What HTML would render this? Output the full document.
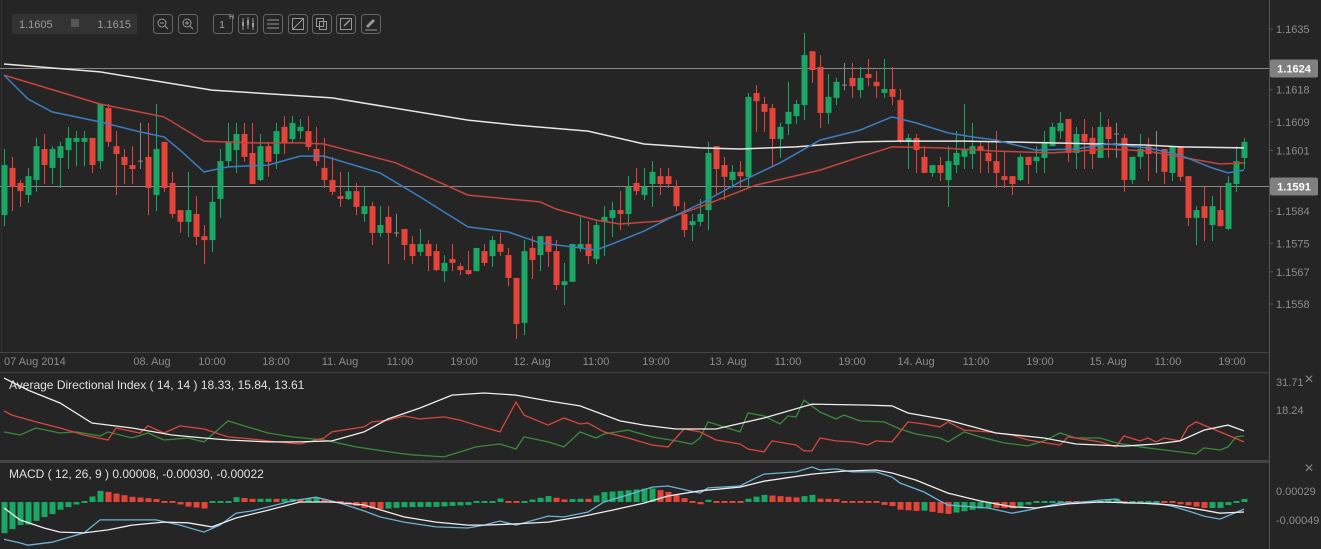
<!DOCTYPE html>
<html><head><meta charset="utf-8"><style>
html,body{margin:0;padding:0;background:#252525;width:1321px;height:549px;overflow:hidden}
svg{display:block;font-family:"Liberation Sans",sans-serif}
</style></head><body>
<svg id="chart" width="1321" height="549" viewBox="0 0 1321 549" xmlns="http://www.w3.org/2000/svg">
<rect x="0" y="0" width="1321" height="549" fill="#252525"/>
<g id="grid">
<line x1="0" y1="352.5" x2="1269" y2="352.5" stroke="#444"/>
<line x1="0" y1="372.5" x2="1269" y2="372.5" stroke="#444"/>
<rect x="0" y="460" width="1269" height="3" fill="#444"/>
<line x1="1269.5" y1="0" x2="1269.5" y2="549" stroke="#555"/>
<line x1="1.5" y1="0" x2="1.5" y2="352" stroke="#333"/>
</g>
<g id="toolbar">
<g>
<rect x="12" y="14" width="125" height="20" rx="2" fill="#333"/>
<text x="19" y="28" font-size="11" fill="#9a9a9a">1.1605</text>
<rect x="71" y="19" width="8" height="8" fill="#555"/>
<text x="131" y="28" font-size="11" fill="#9a9a9a" text-anchor="end">1.1615</text>
</g>
<g><rect x="153.5" y="14.5" width="19" height="19" rx="3" fill="none" stroke="#666"/><circle cx="162" cy="23" r="4" fill="none" stroke="#999"/><line x1="160" y1="23" x2="164" y2="23" stroke="#999"/><line x1="165" y1="26" x2="168" y2="29" stroke="#999"/></g>
<g><rect x="178.5" y="14.5" width="19" height="19" rx="3" fill="none" stroke="#666"/><circle cx="187" cy="23" r="4" fill="none" stroke="#999"/><line x1="185" y1="23" x2="189" y2="23" stroke="#999"/><line x1="187" y1="21" x2="187" y2="25" stroke="#999"/><line x1="190" y1="26" x2="193" y2="29" stroke="#999"/></g>
<g><rect x="213.5" y="14.5" width="19" height="19" rx="3" fill="none" stroke="#666"/><text x="222" y="28" font-size="10" fill="#aaa" text-anchor="middle">1</text><text x="229" y="19" font-size="7" fill="#aaa">H</text></g>
<g><rect x="238.5" y="14.5" width="19" height="19" rx="3" fill="none" stroke="#666"/><path d="M243 18v12M248 17v12M253 18v12" stroke="#999"/><rect x="242" y="22" width="2" height="4" fill="#999"/><rect x="247" y="20" width="2" height="5" fill="#999"/><rect x="252" y="23" width="2" height="4" fill="#999"/></g>
<g><rect x="263.5" y="14.5" width="19" height="19" rx="3" fill="none" stroke="#666"/><path d="M267 20h12M267 24h12M267 28h12" stroke="#999"/></g>
<g><rect x="288.5" y="14.5" width="19" height="19" rx="3" fill="none" stroke="#666"/><rect x="292.5" y="18.5" width="11" height="11" fill="none" stroke="#999"/><path d="M293 29l10-10" stroke="#999"/></g>
<g><rect x="312.5" y="14.5" width="19" height="19" rx="3" fill="none" stroke="#666"/><rect x="316.5" y="18.5" width="7" height="8" fill="none" stroke="#999"/><rect x="319.5" y="21.5" width="7" height="8" fill="none" stroke="#999"/></g>
<g><rect x="336.5" y="14.5" width="19" height="19" rx="3" fill="none" stroke="#666"/><rect x="340.5" y="18.5" width="11" height="11" fill="none" stroke="#999"/><path d="M344 26l6-6" stroke="#999" stroke-width="1.5"/></g>
<g><rect x="361.5" y="14.5" width="19" height="19" rx="3" fill="none" stroke="#666"/><path d="M366 26l7-7 2 2-7 7z" fill="#999"/><line x1="365" y1="30" x2="377" y2="30" stroke="#999"/></g>
</g>
<g id="main"></g>
<g id="adx">
<text x="9" y="389" font-size="12" fill="#e0e0e0">Average Directional Index ( 14, 14 ) 18.33, 15.84, 13.61</text>
<text x="1309" y="384" font-size="16" fill="#888" text-anchor="middle">×</text>
</g>
<g id="macd">
<text x="9" y="478" font-size="12" fill="#e0e0e0">MACD ( 12, 26, 9 ) 0.00008, -0.00030, -0.00022</text>
<text x="1309" y="473" font-size="16" fill="#888" text-anchor="middle">×</text>
</g>
</svg>
<script>
const openP=[1.15829,1.15961,1.15919,1.15885,1.15927,1.16014,1.15961,1.15989,1.16011,1.16034,1.16034,1.16045,1.15980,1.16129,1.16022,1.15992,1.15969,1.15980,1.15992,1.15885,1.16034,1.15919,1.15843,1.15810,1.15832,1.15770,1.15759,1.15874,1.15980,1.16011,1.16056,1.16003,1.15927,1.16022,1.16000,1.16076,1.16042,1.16064,1.16064,1.16014,1.15961,1.15927,1.15882,1.15874,1.15896,1.15832,1.15854,1.15779,1.15824,1.15779,1.15790,1.15748,1.15726,1.15748,1.15728,1.15672,1.15706,1.15686,1.15675,1.15672,1.15728,1.15714,1.15748,1.15717,1.15653,1.15527,1.15737,1.15717,1.15770,1.15728,1.15633,1.15642,1.15737,1.15748,1.15706,1.15812,1.15821,1.15843,1.15832,1.15919,1.15885,1.15916,1.15938,1.15938,1.15908,1.15832,1.15801,1.15810,1.15843,1.16022,1.15969,1.15927,1.15950,1.15936,1.16171,1.16140,1.16129,1.16042,1.16084,1.16106,1.16137,1.16288,1.16244,1.16115,1.16157,1.16193,1.16213,1.16179,1.16224,1.16202,1.16171,1.16182,1.16151,1.16034,1.16045,1.15992,1.15947,1.15969,1.15927,1.15969,1.15992,1.16000,1.16022,1.16003,1.15980,1.15938,1.15938,1.15927,1.15992,1.15980,1.15989,1.16022,1.16064,1.16098,1.16003,1.16056,1.16045,1.15989,1.16076,1.16056,1.16045,1.15927,1.15992,1.16022,1.16003,1.16014,1.15947,1.16022,1.15938,1.15821,1.15854,1.15801,1.15843,1.15790,1.15916,1.15989];
const highP=[1.16014,1.15992,1.15927,1.15961,1.16045,1.16056,1.16022,1.16034,1.16076,1.16064,1.16064,1.16045,1.16140,1.16140,1.16064,1.16014,1.16022,1.16087,1.16087,1.16140,1.16034,1.15950,1.15843,1.15950,1.15882,1.15801,1.15908,1.16014,1.16087,1.16087,1.16087,1.16087,1.16056,1.16034,1.16087,1.16106,1.16106,1.16098,1.16106,1.16076,1.16045,1.15992,1.15950,1.15950,1.15919,1.15908,1.15866,1.15854,1.15854,1.15832,1.15790,1.15770,1.15790,1.15759,1.15748,1.15717,1.15748,1.15695,1.15728,1.15737,1.15748,1.15770,1.15779,1.15737,1.15653,1.15759,1.15770,1.15770,1.15770,1.15759,1.15695,1.15748,1.15824,1.15812,1.15812,1.15854,1.15866,1.15896,1.15938,1.15961,1.15961,1.15980,1.15961,1.15961,1.15927,1.15866,1.15832,1.15874,1.16034,1.16022,1.15992,1.15969,1.15980,1.16171,1.16193,1.16160,1.16140,1.16087,1.16202,1.16151,1.16339,1.16288,1.16277,1.16224,1.16213,1.16255,1.16255,1.16244,1.16266,1.16232,1.16266,1.16244,1.16182,1.16056,1.16056,1.16022,1.15969,1.15992,1.16022,1.16064,1.16140,1.16087,1.16034,1.16034,1.16064,1.16006,1.15938,1.16000,1.15992,1.16022,1.16064,1.16087,1.16118,1.16098,1.16076,1.16098,1.16076,1.16118,1.16098,1.16087,1.16056,1.15992,1.16056,1.16045,1.16064,1.16014,1.16022,1.16022,1.15938,1.15854,1.15908,1.15882,1.15908,1.15938,1.16022,1.16045];
const lowP=[1.15798,1.15840,1.15852,1.15863,1.15894,1.15916,1.15916,1.15905,1.15958,1.15966,1.15966,1.15947,1.15958,1.16020,1.15885,1.15916,1.15916,1.15958,1.15829,1.15840,1.15894,1.15821,1.15779,1.15768,1.15745,1.15692,1.15726,1.15821,1.15966,1.15947,1.15978,1.15916,1.15924,1.15936,1.15958,1.16000,1.16031,1.16042,1.16011,1.15966,1.15905,1.15885,1.15852,1.15871,1.15829,1.15810,1.15745,1.15768,1.15692,1.15768,1.15703,1.15692,1.15714,1.15672,1.15672,1.15642,1.15672,1.15661,1.15661,1.15672,1.15686,1.15684,1.15714,1.15630,1.15482,1.15493,1.15650,1.15672,1.15684,1.15619,1.15577,1.15642,1.15726,1.15692,1.15692,1.15714,1.15768,1.15787,1.15798,1.15885,1.15871,1.15852,1.15885,1.15905,1.15840,1.15768,1.15756,1.15798,1.15787,1.15885,1.15871,1.15905,1.15905,1.15905,1.16062,1.16062,1.15966,1.15989,1.16053,1.16084,1.16095,1.16199,1.16073,1.16084,1.16137,1.16179,1.16157,1.16157,1.16190,1.16157,1.16157,1.16137,1.16031,1.15958,1.15947,1.15947,1.15936,1.15924,1.15852,1.15947,1.15958,1.15958,1.15947,1.15947,1.15905,1.15905,1.15885,1.15924,1.15916,1.15947,1.15947,1.16022,1.16042,1.15978,1.15958,1.15958,1.15958,1.15989,1.15989,1.15989,1.15894,1.15916,1.15958,1.15924,1.15947,1.15916,1.15924,1.15924,1.15798,1.15745,1.15756,1.15756,1.15798,1.15787,1.15894,1.15958];
const closeP=[1.15969,1.15908,1.15896,1.15938,1.16022,1.15969,1.16014,1.16022,1.16045,1.16045,1.16045,1.15969,1.16140,1.16034,1.16000,1.15969,1.15958,1.15980,1.15905,1.16014,1.15905,1.15832,1.15810,1.15843,1.15768,1.15759,1.15866,1.15980,1.16034,1.16056,1.15992,1.15916,1.16022,1.15978,1.16064,1.16031,1.16087,1.16076,1.16020,1.15980,1.15927,1.15894,1.15874,1.15896,1.15852,1.15854,1.15779,1.15801,1.15779,1.15779,1.15745,1.15714,1.15748,1.15714,1.15675,1.15695,1.15695,1.15675,1.15664,1.15737,1.15695,1.15759,1.15726,1.15653,1.15524,1.15728,1.15703,1.15770,1.15726,1.15633,1.15644,1.15748,1.15748,1.15714,1.15801,1.15824,1.15843,1.15832,1.15908,1.15896,1.15908,1.15950,1.15916,1.15916,1.15854,1.15787,1.15812,1.15832,1.16003,1.15958,1.15936,1.15950,1.15938,1.16160,1.16148,1.16118,1.16042,1.16076,1.16118,1.16140,1.16277,1.16235,1.16115,1.16160,1.16202,1.16193,1.16190,1.16213,1.16213,1.16190,1.16182,1.16160,1.16034,1.16045,1.16011,1.15947,1.15969,1.15947,1.15980,1.16003,1.16011,1.16022,1.16011,1.15980,1.15947,1.15927,1.15916,1.15992,1.15969,1.15992,1.16034,1.16076,1.16087,1.16003,1.16056,1.16034,1.16000,1.16076,1.16042,1.16056,1.15927,1.15992,1.16014,1.16000,1.16003,1.15950,1.16022,1.15936,1.15821,1.15843,1.15821,1.15854,1.15798,1.15919,1.15980,1.16034];

const slowMaIdx=[0,12,26,41,58,64,73,80,87,92,99,107,112,120,131,143,147,155];
const slowMaVal=[1.16252,1.16230,1.16179,1.16157,1.16095,1.16081,1.16064,1.16028,1.16017,1.16014,1.16020,1.16034,1.16036,1.16036,1.16031,1.16025,1.16020,1.16017];
const midMaIdx=[0,12,20,25,31,37,40,49,58,67,69,74,77,82,87,94,102,107,111,117,124,131,138,143,147,152,155];
const midMaVal=[1.16221,1.16140,1.16104,1.16036,1.16031,1.16031,1.16028,1.15975,1.15885,1.15866,1.15846,1.15815,1.15804,1.15812,1.15852,1.15913,1.15955,1.15992,1.16020,1.16017,1.16008,1.16003,1.16014,1.16008,1.15992,1.15972,1.15975];
const fastMaIdx=[0,3,6,12,17,20,22,25,28,33,37,40,47,52,58,63,67,72,74,77,80,83,87,92,97,102,107,111,114,118,121,124,129,134,138,143,147,151,153,155];
const fastMaVal=[1.16221,1.16154,1.16118,1.16090,1.16062,1.16048,1.16011,1.15950,1.15964,1.15969,1.15994,1.15994,1.15947,1.15880,1.15796,1.15782,1.15751,1.15737,1.15731,1.15757,1.15784,1.15818,1.15860,1.15922,1.15975,1.16039,1.16067,1.16104,1.16087,1.16059,1.16048,1.16039,1.16011,1.16014,1.16028,1.16017,1.15997,1.15961,1.15947,1.15955];
const levelPrices=[1.1624,1.1591];
const priceTicks=[1.1635,1.1618,1.1609,1.1601,1.1584,1.1575,1.1567,1.1558];
const timeLabels=["07 Aug 2014","08. Aug","10:00","18:00","11. Aug","11:00","19:00","12. Aug","11:00","19:00","13. Aug","11:00","19:00","14. Aug","11:00","19:00","15. Aug","11:00","19:00"];
const timeLabelIdx=[4.5,18.5,26,34,42,49.5,57.5,66,74,81.5,90.5,98,106,114,121.5,129.5,138,145.5,153.5];

const adxLineIdx=[0,3,7,11,16,21,25,28,33,37,41,45,48,52,56,60,64,68,72,77,80,84,89,95,101,108,111,113,118,124,130,134,140,144,147,150,153,155];
const adxLineVal=[33.6,27.8,21.6,12.0,9.6,6.2,4.8,3.8,2.9,2.9,3.4,7.7,13.9,19.2,25.4,26.4,25.4,22.6,20.2,13.0,11.0,9.1,9.1,14.4,21.1,20.6,20.2,16.8,13.4,7.2,4.8,1.9,0.9,1.9,3.4,8.6,11.0,8.2];
const plusDiIdx=[0,1,4,7,10,13,14,17,18,20,22,25,28,31,34,37,40,41,45,46,48,50,52,55,57,59,62,64,65,68,70,72,73,75,78,81,83,85,87,89,92,93,95,96,99,100,101,102,104,106,108,109,111,113,115,117,118,120,123,126,128,132,133,137,139,140,142,143,144,145,147,148,149,155];
const plusDiVal=[17.8,15.8,12.5,9.6,6.2,3.8,9.6,7.2,10.6,7.2,10.6,9.1,5.3,4.3,2.9,1.9,4.8,7.7,10.1,12.5,13.4,15.4,13.9,14.9,13.4,11.0,7.7,22.1,15.8,11.0,14.4,11.5,12.0,7.7,4.8,1.4,0.5,9.1,7.7,3.8,1.9,-0.5,-1.9,3.4,1.4,-1.4,-1.4,4.8,3.4,2.9,1.4,3.4,2.9,12.5,11.5,10.1,12.5,8.6,7.7,6.2,3.8,1.4,5.3,2.9,0.5,5.8,3.4,4.8,2.9,4.8,3.4,10.1,12.5,2.9];
const minusDiIdx=[0,2,4,7,9,12,13,16,18,20,23,25,28,30,33,36,40,44,49,51,55,57,59,62,64,65,68,70,72,74,75,78,81,84,86,87,88,90,92,93,95,97,98,99,100,102,104,105,107,110,112,114,117,118,120,122,125,128,130,132,134,137,139,142,144,147,149,150,152,153,154,155];
const minusDiVal=[7.7,6.2,9.6,7.2,7.7,5.8,7.7,4.8,7.2,3.8,4.8,2.9,13.0,10.6,7.2,5.3,3.8,0.5,-2.4,-3.3,-4.3,-1.9,0.5,1.9,-0.5,5.3,2.9,0.5,7.7,4.8,6.7,8.6,5.3,3.4,1.9,4.8,12.5,10.1,7.7,16.8,15.4,11.5,15.4,14.9,23.0,17.3,13.9,15.8,13.0,12.5,9.1,6.7,4.8,2.9,7.7,5.3,2.4,1.0,3.4,7.2,4.8,4.8,2.4,0.5,-0.5,-1.9,-2.9,0,-1.0,0.5,5.3,5.8];
const adxTicks=[31.71,18.24];

// MACD values in units of 1e-5
const macdIdx=[0,2,3,6,10,12,19,22,25,27,29,31,34,36,39,42,45,47,50,54,58,60,62,64,68,70,73,75,78,81,83,87,88,92,94,95,99,101,102,104,106,109,111,112,115,117,118,121,123,126,128,132,135,137,139,140,144,146,148,150,152,155];
const macdValE5=[-100,-110,-116,-108,-83,-48,-48,-62,-81,-62,-30,-24,-8,3,13,-3,-24,-40,-54,-67,-70,-62,-51,-62,-38,-40,-27,0,19,40,43,24,38,43,65,75,81,94,86,89,81,81,67,51,27,3,-8,-13,-16,-30,-22,-3,0,5,8,-3,-3,-11,-24,-38,-46,-19];
const signalIdx=[0,2,5,7,10,13,16,20,23,26,29,33,37,41,45,50,54,58,60,64,68,72,76,80,83,87,92,95,101,105,109,111,114,118,122,126,129,133,137,142,146,150,152,155];
const signalValE5=[-16,-48,-70,-81,-83,-75,-62,-54,-56,-67,-43,-22,0,0,-8,-40,-54,-62,-62,-59,-54,-40,-22,-3,16,30,40,56,75,83,86,78,59,24,3,-13,-16,-5,0,-3,-8,-22,-30,-27];
const macdTicksE5=[29,-49];

const NS="http://www.w3.org/2000/svg";
const N=openP.length;
const xOf=i=>4+8*i;
const priceY=p=>29+(1.1635-p)*35714.3;
const adxY=v=>410-(v-18.24)*2.08;
const macdY=vE5=>502-vE5*0.372;
function mk(tag,attrs,parent){const e=document.createElementNS(NS,tag);for(const k in attrs)e.setAttribute(k,attrs[k]);parent.appendChild(e);return e;}
function interp(idx,val,i){if(i<=idx[0])return val[0];for(let k=1;k<idx.length;k++){if(i<=idx[k]){const t=(i-idx[k-1])/(idx[k]-idx[k-1]);return val[k-1]+t*(val[k]-val[k-1]);}}return val[val.length-1];}
function pathOf(idx,val,fy){return idx.map((ix,k)=>(k?'L':'M')+xOf(ix).toFixed(1)+' '+fy(val[k]).toFixed(1)).join(' ');}

const main=document.getElementById('main');
// price ticks
priceTicks.forEach(p=>{
  const t=mk('text',{x:1276,y:(priceY(p)+4).toFixed(1),'font-size':11,fill:'#8c8c8c'},main);
  t.textContent=p.toFixed(4);
  
  
  mk('line',{x1:1269,x2:1273,y1:priceY(p),y2:priceY(p),stroke:'#555'},main);
});
// time labels
timeLabels.forEach((s,k)=>{
  const x=xOf(timeLabelIdx[k]);
  const t=mk('text',{x:k===0?4:x,y:365,'font-size':11,fill:'#8c8c8c','text-anchor':k===0?'start':'middle'},main);
  t.textContent=s;
  
  
});
// level lines
levelPrices.forEach(p=>{
  const y=Math.round(priceY(p))+0.5;
  const l=mk('line',{x1:0,x2:1269,y1:y,y2:y,stroke:'#8a8a8a','stroke-width':1},main);
  
  
  const r=mk('rect',{x:1270,y:y-9,width:48,height:18,rx:2,fill:'#808080'},main);
  
  
  const t=mk('text',{x:1294,y:y+4,'font-size':11,'font-weight':'bold',fill:'#fff','text-anchor':'middle'},main);
  t.textContent=p.toFixed(4);
  
  
});
// candles
for(let i=0;i<N;i++){
  const o=openP[i],c=closeP[i],h=highP[i],l=lowP[i];
  const col=c>o?'#1aa765':(c<o?'#e5443a':'#8a8a8a');
  const x=xOf(i);
  const g=mk('g',{},main);
  
  
  mk('line',{x1:x+0.5,x2:x+0.5,y1:priceY(h),y2:priceY(l),stroke:col,'stroke-width':1},g);
  const top=priceY(Math.max(o,c)),bot=priceY(Math.min(o,c));
  if(c===o){mk('line',{x1:x-2,x2:x+3,y1:top,y2:top,stroke:col},g);}
  else mk('rect',{x:x-2.5,y:top,width:6,height:Math.max(1,bot-top),fill:col},g);
}
// moving averages
[[slowMaIdx,slowMaVal,'#e6e6e6','slow-moving-average'],[midMaIdx,midMaVal,'#c8443c','medium-moving-average'],[fastMaIdx,fastMaVal,'#3b7fc2','fast-moving-average']].forEach(s=>{
  const p=mk('path',{d:pathOf(s[0],s[1],priceY),fill:'none',stroke:s[2],'stroke-width':1.5},main);
  
  
});

// ADX
const adx=document.getElementById('adx');
adxTicks.forEach(v=>{
  const t=mk('text',{x:1276,y:(adxY(v)+4).toFixed(1),'font-size':11,fill:'#8c8c8c'},adx);
  t.textContent=v.toFixed(2);
  
  
});
[[minusDiIdx,minusDiVal,'#3a8a3e','minus-di-line'],[plusDiIdx,plusDiVal,'#d9463c','plus-di-line'],[adxLineIdx,adxLineVal,'#eeeeee','adx-line']].forEach(s=>{
  const p=mk('path',{d:pathOf(s[0],s[1],adxY),fill:'none',stroke:s[2],'stroke-width':1.3},adx);
  
  
});

// MACD
const macd=document.getElementById('macd');
macdTicksE5.forEach(v=>{
  const t=mk('text',{x:1276,y:(macdY(v)+4).toFixed(1),'font-size':11,fill:'#8c8c8c'},macd);
  t.textContent=(v/1e5).toFixed(5);
  
  
});
let prevH=null;
for(let i=0;i<N;i++){
  const h=interp(macdIdx,macdValE5,i)-interp(signalIdx,signalValE5,i);
  const col=(prevH===null||h>=prevH)?'#1aa765':'#e5443a';
  prevH=h;
  const y0=macdY(0),y1=macdY(h);
  let top=Math.min(y0,y1),ht=Math.abs(y1-y0);
  if(ht<2){ht=2;top=y0-1;}
  const r=mk('rect',{x:xOf(i)-2.5,y:top,width:6,height:ht,fill:col},macd);
  
  
}
[[macdIdx,macdValE5,'#6cb4d8','macd-line'],[signalIdx,signalValE5,'#eeeeee','signal-line']].forEach(s=>{
  const p=mk('path',{d:pathOf(s[0],s[1],macdY),fill:'none',stroke:s[2],'stroke-width':1.3},macd);
  
  
});
</script>
</body></html>
